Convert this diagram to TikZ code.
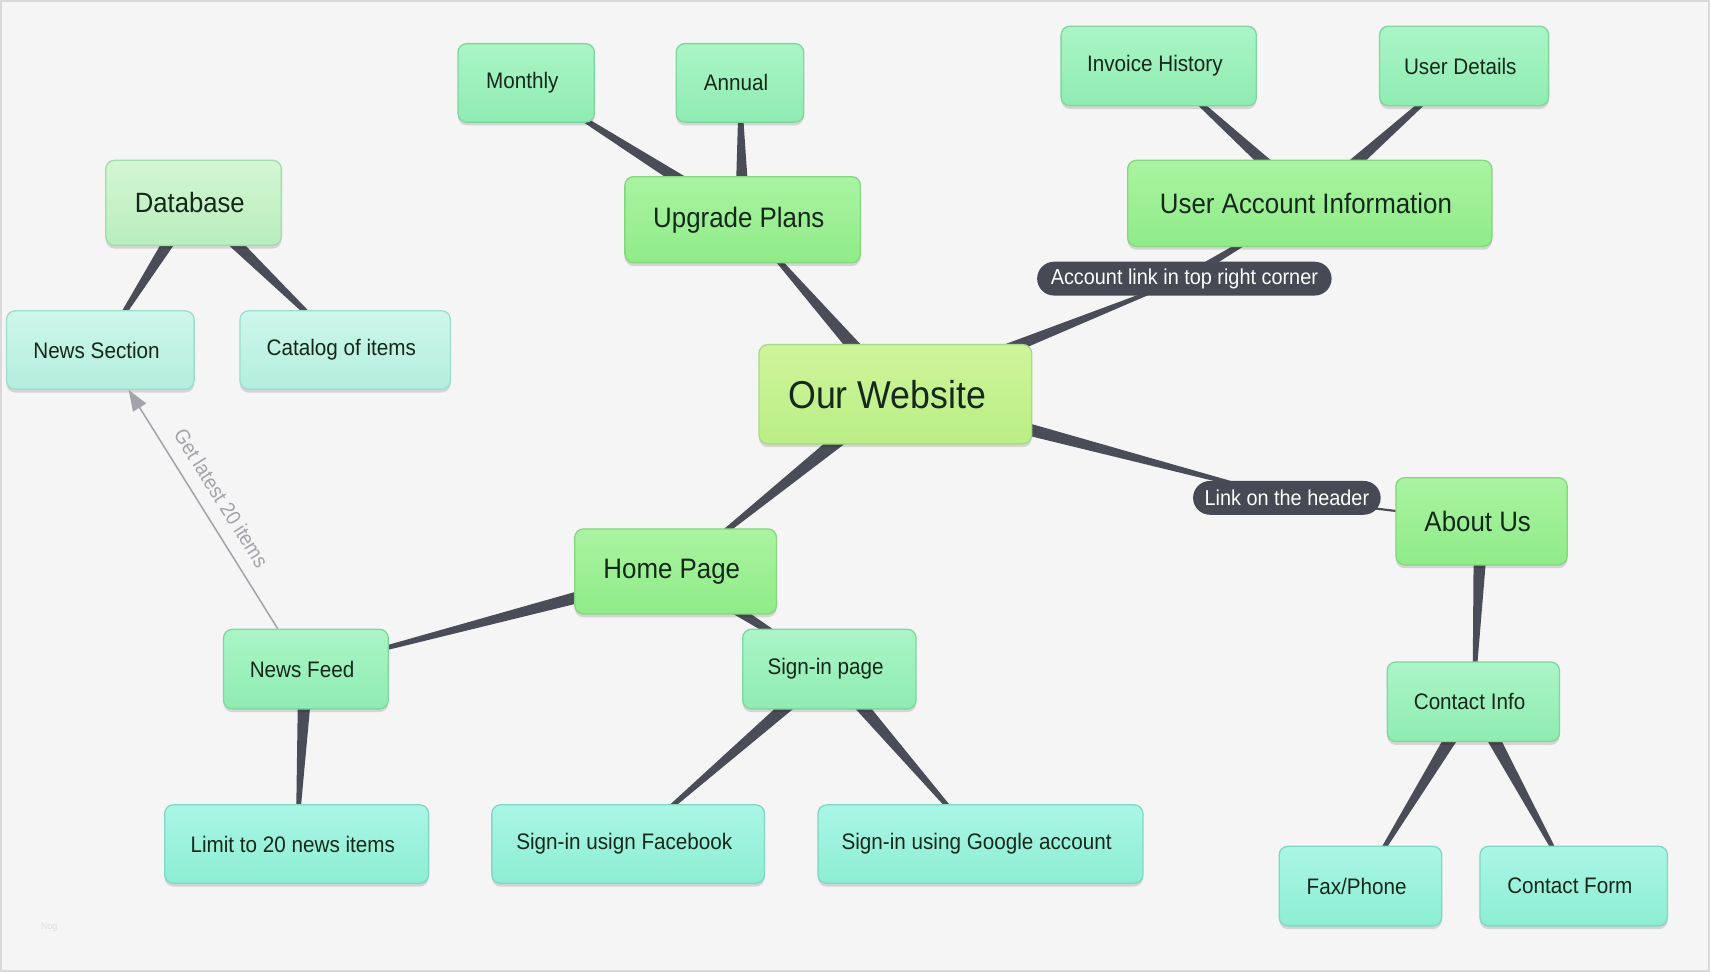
\documentclass[tikz,border=0pt]{standalone}
\usepackage{fontspec}
\setmainfont{Liberation Sans}[FakeStretch=0.92]
\usetikzlibrary{calc,shadows,arrows.meta}
\pgfdeclarelayer{bg}\pgfdeclarelayer{conn}\pgfsetlayers{bg,conn,main}
\definecolor{bgcol}{HTML}{F5F5F5}
\definecolor{framecol}{HTML}{D9D9D9}
\definecolor{conncol}{HTML}{4A4C58}
\definecolor{txtcol}{HTML}{15291A}
\definecolor{pillcol}{HTML}{474A55}
\definecolor{arrowcol}{HTML}{A3A3AB}
\definecolor{rootT}{HTML}{CFF59A}\definecolor{rootB}{HTML}{BAEE86}\definecolor{rootD}{HTML}{A8DA8A}
\definecolor{oneT}{HTML}{AAF3A2}\definecolor{oneB}{HTML}{8FEC87}\definecolor{oneD}{HTML}{84D680}
\definecolor{twoT}{HTML}{AAF5C6}\definecolor{twoB}{HTML}{8FECB1}\definecolor{twoD}{HTML}{80D6A0}
\definecolor{thrT}{HTML}{AAF6E5}\definecolor{thrB}{HTML}{8DEED3}\definecolor{thrD}{HTML}{7FD8C3}
\definecolor{dbT}{HTML}{D3F7D1}\definecolor{dbB}{HTML}{B9EDBE}\definecolor{dbD}{HTML}{A7D8AF}
\definecolor{nsT}{HTML}{CEF7EB}\definecolor{nsB}{HTML}{B3EEDD}\definecolor{nsD}{HTML}{A0DCCB}
\newcommand\wedgeconn[3]{%
  \fill[conncol] ($(#1)!#3!90:(#2)$) -- ($(#2)!0.8pt!-90:(#1)$) -- ($(#2)!0.8pt!90:(#1)$) -- ($(#1)!#3!-90:(#2)$) -- cycle;}
\tikzset{
  box/.style={rounded corners=8pt, line width=1.2pt, inner sep=0pt, text=txtcol,
    execute at end node={\kern7pt},
    drop shadow={shadow xshift=0pt,shadow yshift=-3pt,opacity=0.13,fill=black}},
  lvlroot/.style={box, draw=rootD, top color=rootT, bottom color=rootB, font=\fontsize{35.6}{40}\selectfont},
  lvlone/.style={box, draw=oneD, top color=oneT, bottom color=oneB, font=\fontsize{25.8}{30}\selectfont},
  lvltwo/.style={box, draw=twoD, top color=twoT, bottom color=twoB, font=\fontsize{20.6}{24}\selectfont},
  lvlthree/.style={box, draw=thrD, top color=thrT, bottom color=thrB, font=\fontsize{20.6}{24}\selectfont},
  lvldb/.style={box, draw=dbD, top color=dbT, bottom color=dbB, font=\fontsize{25.6}{30}\selectfont},
  lvlns/.style={box, draw=nsD, top color=nsT, bottom color=nsB, font=\fontsize{20.6}{24}\selectfont},
  pill/.style={rounded corners=15.5pt, fill=pillcol, text=white, inner sep=0pt, minimum height=31pt,
    font=\fontsize{19.8}{23}\selectfont},
  sz/.style 2 args={minimum width=#1pt, minimum height=#2pt}
}
\begin{document}
\begin{tikzpicture}[x=1pt,y=-1pt]
\useasboundingbox (0,0) rectangle (1568,891);
\begin{pgfonlayer}{bg}
\fill[bgcol] (0,0) rectangle (1568,891);
\draw[framecol, line width=1.5pt] (0.75,0.75) rectangle (1567.25,890.25);
\node[text=black!12, font=\fontsize{9}{10}\selectfont] (wm) at (45,850) {Nog};
\end{pgfonlayer}

% nodes
\node[lvlroot, sz={250}{91}] (root) at (821,361.5) {Our Website\kern8pt};
\node[lvlone, sz={216}{79}] (up) at (681,201.5) {Upgrade Plans};
\node[lvlone, sz={334}{79}] (uai) at (1201,186.5) {User Account Information};
\node[lvlone, sz={185}{78}] (home) at (619.5,524) {Home Page};
\node[lvlone, sz={157}{80}] (about) at (1358.5,478) {About Us};
\node[lvltwo, sz={125}{72}] (monthly) at (482.5,76) {Monthly};
\node[lvltwo, sz={117}{72}] (annual) at (678.5,76) {Annual};
\node[lvltwo, sz={179}{73}] (invoice) at (1062.5,60.5) {Invoice History};
\node[lvltwo, sz={155}{73}] (udet) at (1342.5,60.5) {User Details};
\node[lvltwo, sz={151}{73}] (nf) at (280.5,613.5) {News Feed};
\node[lvltwo, sz={159}{73}] (signin) at (760.5,613.5) {Sign-in page};
\node[lvltwo, sz={158}{73}] (cinfo) at (1351,643.5) {Contact Info};
\node[lvlthree, sz={242}{72}] (limit) at (272,774) {Limit to 20 news items};
\node[lvlthree, sz={250}{72}] (fb) at (576,774) {Sign-in usign Facebook};
\node[lvlthree, sz={298}{72}] (google) at (899,774) {Sign-in using Google account};
\node[lvlthree, sz={149}{73}] (fax) at (1247.5,812.5) {Fax/Phone};
\node[lvlthree, sz={172}{73}] (cform) at (1443,812.5) {Contact Form};
\node[lvldb, sz={161}{78}] (db) at (177.5,186) {Database};
\node[lvlns, sz={172}{72}] (ns) at (92,321) {News Section};
\node[lvlns, sz={193}{72}] (cat) at (316.5,321) {Catalog of items};
\node[pill, minimum width=270pt] (acc) at (1086,255.5) {Account link in top right corner};
\node[pill, minimum width=172pt] (hdr) at (1180,456.5) {Link on the header};

% connectors
\begin{pgfonlayer}{conn}
\wedgeconn{root}{up}{8pt}
\wedgeconn{root}{acc}{8pt}
\wedgeconn{acc}{uai}{4pt}
\wedgeconn{root}{hdr}{8pt}
\wedgeconn{hdr}{about}{1.2pt}
\wedgeconn{root}{home}{8pt}
\wedgeconn{up}{monthly}{7pt}
\wedgeconn{up}{annual}{7pt}
\wedgeconn{uai}{invoice}{7pt}
\wedgeconn{uai}{udet}{7pt}
\wedgeconn{home}{nf}{7pt}
\wedgeconn{home}{signin}{7pt}
\wedgeconn{nf}{limit}{7pt}
\wedgeconn{signin}{fb}{7pt}
\wedgeconn{signin}{google}{7pt}
\wedgeconn{about}{cinfo}{7pt}
\wedgeconn{cinfo}{fax}{7pt}
\wedgeconn{cinfo}{cform}{7pt}
\wedgeconn{db}{ns}{7pt}
\wedgeconn{db}{cat}{7pt}
\end{pgfonlayer}

% gray arrow
\draw[arrowcol, line width=1.4pt, -{Triangle[length=19pt,width=14pt]}]
  ($(nf.north west)!0.33!(nf.north east)$) --
  node[pos=0.50, sloped, above=12pt, inner sep=0pt, text=arrowcol, font=\fontsize{19}{22}\selectfont] {Get latest 20 items}
  ($(ns.south west)!0.65!(ns.south east)$);
\end{tikzpicture}
\end{document}
